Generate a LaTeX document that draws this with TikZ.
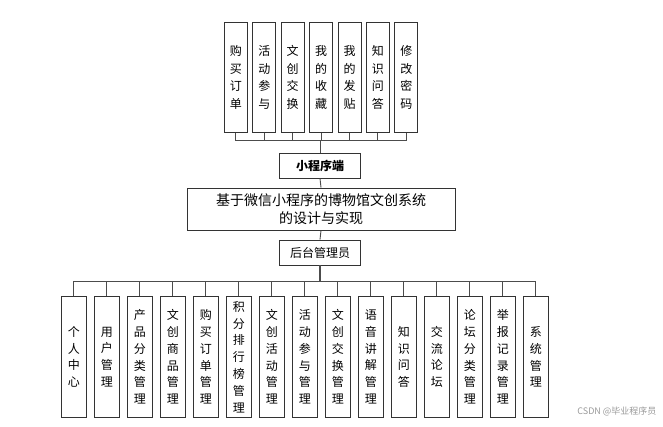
\documentclass[tikz,border=0pt]{standalone}
\usepackage{fontspec}
\setmainfont{Noto Sans CJK SC}
\begin{document}
\begin{tikzpicture}[x=1pt,y=-1pt,
 vbox/.style={draw=black!80,line width=0.8pt,fill=white,minimum width=23pt,inner sep=0pt,font=\fontsize{12}{17.5}\selectfont,align=center,anchor=north west},
 hbox/.style={draw=black!80,line width=0.8pt,fill=white,inner sep=0pt,font=\fontsize{12}{14}\selectfont,align=center},
 ln/.style={draw=black!70,line width=0.9pt}]
\useasboundingbox (0,0) rectangle (663,426);
% top boxes
\foreach \t [count=\i] in {购\\买\\订\\单,活\\动\\参\\与,文\\创\\交\\换,我\\的\\收\\藏,我\\的\\发\\贴,知\\识\\问\\答,修\\改\\密\\码}{
 \node[vbox,minimum height=110pt] (t\i) at ({224+28.4*(\i-1)},22) {\t};
}
\node[hbox,minimum width=81pt,minimum height=25pt,font=\fontsize{12}{14}\selectfont\bfseries] (mp) at (320,165.5) {小程序端};
\node[hbox,minimum width=268pt,minimum height=42pt,font=\fontsize{14}{18}\selectfont] (sys) at (321,209) {基于微信小程序的博物馆文创系统\\的设计与实现};
\node[hbox,minimum width=81pt,minimum height=25pt] (ad) at (320,252.5) {后台管理员};
\coordinate (tb) at (320,140);
\foreach \i in {1,...,7}{ \draw[ln] (t\i.south) |- (tb); }
\draw[ln] (t1.south) |- (t7.south |- tb);
\draw[ln] (tb) -- (mp.north);
\draw[ln] (mp.south) -- (sys.north);
\draw[ln] (sys.south) -- (ad.north);
% bottom
\foreach \t [count=\i] in {个\\人\\中\\心,用\\户\\管\\理,产\\品\\分\\类\\管\\理,文\\创\\商\\品\\管\\理,购\\买\\订\\单\\管\\理,积\\分\\排\\行\\榜\\管\\理,文\\创\\活\\动\\管\\理,活\\动\\参\\与\\管\\理,文\\创\\交\\换\\管\\理,语\\音\\讲\\解\\管\\理,知\\识\\问\\答,交\\流\\论\\坛,论\\坛\\分\\类\\管\\理,举\\报\\记\\录\\管\\理,系\\统\\管\\理}{
 \node[vbox,minimum width=25pt,minimum height=121pt,font=\fontsize{12}{16.8}\selectfont] (b\i) at ({61+33*(\i-1)},296) {\t};
}
\coordinate (bb) at (320,281);
\draw[ln,line width=1.1pt] (ad.south) -- (bb);
\draw[ln] (b1.north) |- (b15.north |- bb) -- (b15.north);
\foreach \i in {2,...,14}{ \draw[ln] (b\i.north) -- (b\i.north |- bb); }
\node[text=black!40,font=\fontsize{9}{10}\selectfont,anchor=east] (wm) at (660,411) {CSDN @毕业程序员};
\end{tikzpicture}
\end{document}
